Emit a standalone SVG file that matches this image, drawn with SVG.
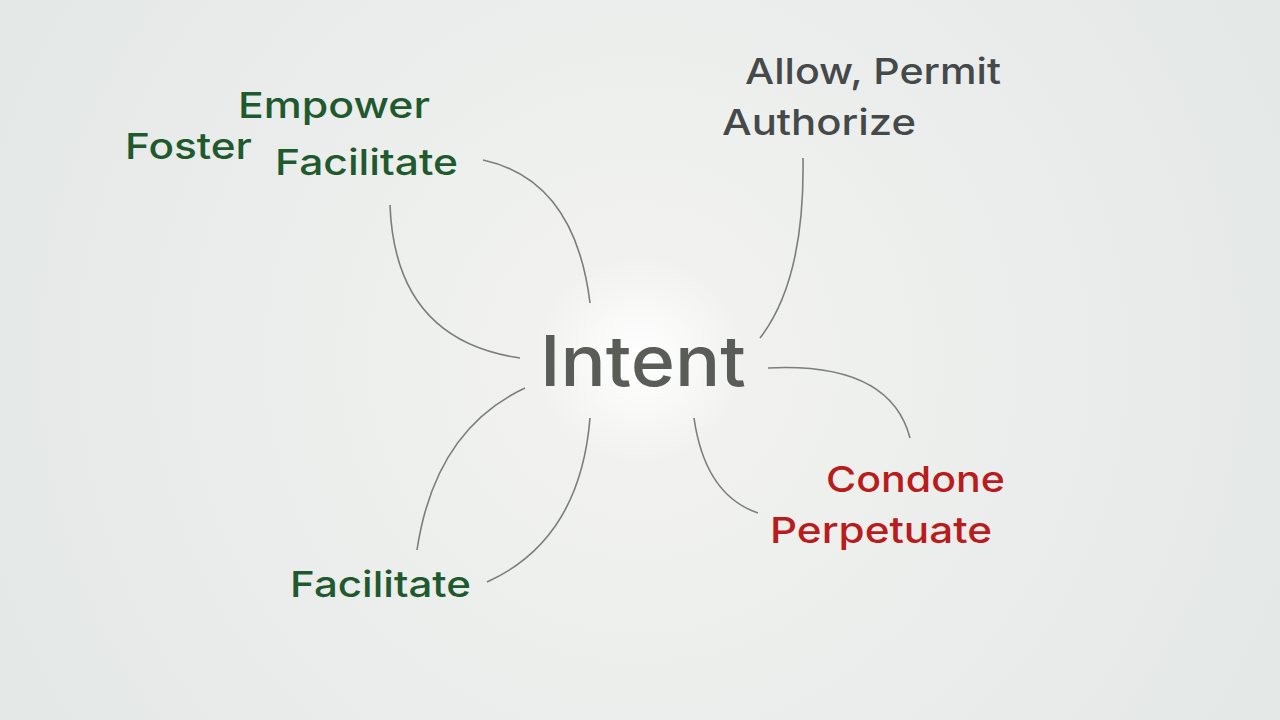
<svg xmlns="http://www.w3.org/2000/svg" width="1280" height="720" viewBox="0 0 1280 720">
<defs>
<radialGradient id="glow" cx="640" cy="360" r="700" gradientUnits="userSpaceOnUse">
<stop offset="0" stop-color="#ffffff"/>
<stop offset="0.15" stop-color="#f1f2f0"/>
<stop offset="1" stop-color="#e4e8e7"/>
</radialGradient>
<style>
text{font-family:Inter,"Open Sans","DejaVu Sans",sans-serif;font-weight:500}
.g{fill:#1f5a2e;font-size:36px}
.k{fill:#45494a;font-size:36px}
.r{fill:#b81c1c;font-size:36px}
.c{fill:none;stroke:#7a7e7e;stroke-width:1.6}
</style>
</defs>
<rect width="1280" height="720" fill="url(#glow)"/>
<g id="connectors">
<path class="c" d="M483,160 Q575,180 590,303"/>
<path class="c" d="M390,205 Q395,340 520,358"/>
<path class="c" d="M803,158 Q805,280 760,338"/>
<path class="c" d="M768,368 Q890,362 910,438"/>
<path class="c" d="M694,418 Q705,495 758,513"/>
<path class="c" d="M525,388 Q435,430 417,550"/>
<path class="c" d="M590,418 Q580,540 487,582"/>
</g>
<g id="intent"><text x="540" y="386" textLength="206" lengthAdjust="spacingAndGlyphs" style="font-size:70px;fill:#5a5c58">Intent</text></g>
<g id="empower"><text class="g" x="238" y="118" textLength="192" lengthAdjust="spacingAndGlyphs">Empower</text></g>
<g id="foster"><text class="g" x="125" y="159" textLength="127" lengthAdjust="spacingAndGlyphs">Foster</text></g>
<g id="facilitate1"><text class="g" x="275" y="175" textLength="183" lengthAdjust="spacingAndGlyphs">Facilitate</text></g>
<g id="allow"><text class="k" x="745" y="84" textLength="256" lengthAdjust="spacingAndGlyphs">Allow, Permit</text></g>
<g id="authorize"><text class="k" x="722" y="135" textLength="194" lengthAdjust="spacingAndGlyphs">Authorize</text></g>
<g id="condone"><text class="r" x="826" y="492" textLength="179" lengthAdjust="spacingAndGlyphs">Condone</text></g>
<g id="perpetuate"><text class="r" x="770" y="543" textLength="222" lengthAdjust="spacingAndGlyphs">Perpetuate</text></g>
<g id="facilitate2"><text class="g" x="290" y="597" textLength="181" lengthAdjust="spacingAndGlyphs">Facilitate</text></g>
</svg>
